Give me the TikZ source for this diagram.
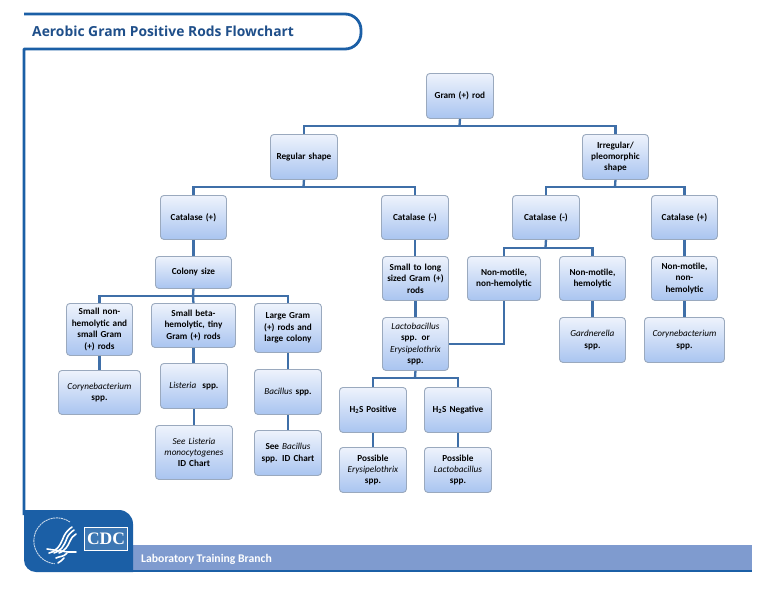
\documentclass[tikz,border=0pt]{standalone}
\usepackage{fontspec}
\setmainfont{Carlito}
\newfontfamily\titlefont{Open Sans}
\newfontfamily\logofont{Liberation Serif}
\definecolor{cdcblue}{HTML}{1B5FA6}
\definecolor{linkblue}{HTML}{3F6FA8}
\definecolor{bandblue}{HTML}{7F9BCF}
\definecolor{boxedge}{HTML}{9AA9BE}
\definecolor{boxtop}{HTML}{EEF3FC}
\definecolor{boxbot}{HTML}{A9C4F0}
\definecolor{titleblue}{HTML}{1F4F8A}
\tikzset{
  x=1pt,y=-1pt,
  fbox/.style={draw=boxedge,line width=0.9pt,rounded corners=3.5pt,top color=boxtop,bottom color=boxbot,
    align=center,font=\fontsize{9.2}{11.4}\selectfont\bfseries,inner sep=1pt,anchor=north west},
  link/.style={draw=linkblue,line width=2.3pt},
}
\newcommand{\itl}[1]{{\normalfont\itshape #1}}
\newcommand{\fb}[6]{% name,x1,y1,x2,y2,text
  \pgfmathsetmacro{\wid}{#4-#2}\pgfmathsetmacro{\hei}{#5-#3}
  \node[fbox,minimum width=\wid pt,minimum height=\hei pt,text width=\wid pt-3pt] (#1) at (#2,#3) {#6};}
\begin{document}
\begin{tikzpicture}
\useasboundingbox (0,0) rectangle (768,594);
\fill[white] (0,0) rectangle (768,594);
% frame
\draw[cdcblue,line width=2.8pt,line join=round] (24,14) -- (345,14) arc[start angle=90,end angle=0,radius=16pt] -- (361,33) arc[start angle=0,end angle=-90,radius=16pt] -- (24,49) -- (24,515);
\node[anchor=west,inner sep=0pt,text=titleblue,font=\titlefont\fontsize{13.85}{16}\selectfont\bfseries] (title) at (32,31) {Aerobic Gram Positive Rods Flowchart};
% footer
\fill[bandblue] (133,545) rectangle (752,570);
\fill[cdcblue] (133,570) rectangle (752,572);
\fill[cdcblue] (24,510) -- (119,510) arc[start angle=90,end angle=0,radius=14pt] -- (133,572) -- (36,572) arc[start angle=-90,end angle=-180,radius=12pt] -- cycle;
\node[anchor=west,inner sep=0pt,text=white,font=\fontsize{11.7}{13}\selectfont\bfseries] (ltb) at (141,559) {Laboratory Training Branch};
% CDC logo
\node[draw=white,line width=1.1pt,fill=cdcblue!85!white,text=white,inner sep=0pt,minimum width=43pt,minimum height=23pt,anchor=north west,font=\logofont\fontsize{17.5}{18}\selectfont\bfseries] (cdc) at (84,527) {CDC};
% HHS eagle
\draw[white!75!cdcblue,line width=0.9pt,dash pattern=on 2pt off 0.6pt] (70,522) arc[start angle=55,end angle=265,radius=23pt];
\begin{scope}[white,line width=1.6pt,line cap=round]
\draw (49,553) .. controls (57,551) and (60,546) .. (64,536) .. controls (66,532) and (69,529) .. (72,527);
\draw (54,553) .. controls (61,551) and (64,546) .. (67,538) .. controls (68,535) and (71,532) .. (74,530);
\draw (59,553) .. controls (65,551) and (68,546) .. (70,541) .. controls (71,538) and (73,536) .. (76,534);
\draw (47,549) -- (68,552) -- (76,552);
\draw (56,558) .. controls (60,556) and (64,557) .. (67,553);
\draw (58,563) .. controls (60,561) and (62,561) .. (64,558);
\end{scope}
% connectors
\coordinate (b1) at (459.5,126);
\coordinate (b2) at (303.5,187);
\coordinate (b3) at (615,187);
\coordinate (b4) at (545.5,248);
\coordinate (b5) at (193,296);
\coordinate (b6) at (415,378);
% boxes
\fb{gram}{426}{73}{493}{118}{Gram (+) rod}
\fb{regular}{270}{134}{337}{179}{Regular shape}
\fb{irregular}{582}{134}{648}{179}{Irregular/\\pleomorphic\\shape}
\fb{catA}{160}{195}{226}{239}{Catalase (+)}
\fb{catB}{381}{195}{448}{239}{Catalase (-)}
\fb{catC}{512}{195}{579}{239}{Catalase (-)}
\fb{catD}{651}{195}{717}{239}{Catalase (+)}
\fb{colony}{155}{256}{231}{288}{Colony size}
\fb{smallnon}{66}{303}{132}{355}{Small non-\\hemolytic and\\small Gram\\(+) rods}
\fb{smallbeta}{151}{303}{235}{347}{Small beta-\\hemolytic, tiny\\Gram (+) rods}
\fb{large}{254}{303}{321}{352}{Large Gram\\(+) rods and\\large colony}
\fb{coryA}{58}{370}{140}{414}{\itl{Corynebacterium}\\spp.}
\fb{listeria}{160}{363}{227}{408}{\itl{Listeria}\ \ spp.}
\fb{seelist}{155}{425}{232}{479}{\itl{See Listeria}\\\itl{monocytogenes}\\ID Chart}
\fb{bacillus}{254}{369}{321}{414}{\itl{Bacillus} spp.}
\fb{seebac}{254}{430}{321}{475}{See \itl{Bacillus}\\spp. ID Chart}
\fb{smalllong}{382}{256}{448}{300}{Small to long\\sized Gram (+)\\rods}
\fb{nmnon}{467}{256}{540}{300}{Non-motile,\\non-hemolytic}
\fb{nmhem}{559}{256}{625}{300}{Non-motile,\\hemolytic}
\fb{nmright}{651}{256}{717}{300}{Non-motile,\\non-\\hemolytic}
\fb{lacto}{382}{317}{448}{370}{\itl{Lactobacillus}\\spp. or\\\itl{Erysipelothrix}\\spp.}
\fb{gard}{559}{317}{625}{362}{\itl{Gardnerella}\\spp.}
\fb{coryB}{644}{317}{724}{362}{\itl{Corynebacterium}\\spp.}
\fb{hpos}{339}{387}{406}{432}{H\textsubscript{2}S Positive}
\fb{hneg}{424}{387}{491}{432}{H\textsubscript{2}S Negative}
\fb{pose}{339}{447}{406}{492}{Possible\\\itl{Erysipelothrix}\\spp.}
\fb{posl}{424}{447}{491}{492}{Possible\\\itl{Lactobacillus}\\spp.}
\draw[link] (gram.south) -- (b1);
\draw[link] (regular.north) |- (b1) -| (irregular.north);
\draw[link] (regular.south) -- (b2);
\draw[link] (catA.north) |- (b2) -| (catB.north);
\draw[link] (irregular.south) -- (b3);
\draw[link] (catC.north) |- (b3) -| (catD.north);
\draw[link] (catA.south) -- (colony.north);
\draw[link] (catB.south) -- (catB.south |- smalllong.north);
\draw[link] (catC.south) -- (b4);
\draw[link] (nmnon.north) |- (b4) -| (nmhem.north);
\draw[link] (catD.south) -- (nmright.north);
\draw[link] (colony.south) -- (b5);
\draw[link] (smallnon.north) |- (b5) -| (large.north);
\draw[link] (b5) -- (smallbeta.north);
\draw[link] (smallnon.south) -- (smallnon.south |- coryA.north);
\draw[link] (smallbeta.south) -- (smallbeta.south |- listeria.north);
\draw[link] (listeria.south) -- (listeria.south |- seelist.north);
\draw[link] (large.south) -- (bacillus.north);
\draw[link] (bacillus.south) -- (seebac.north);
\draw[link] (smalllong.south) -- (lacto.north);
\draw[link] (nmnon.south) |- (lacto.east);
\draw[link] (nmhem.south) -- (gard.north);
\draw[link] (nmright.south) -- (nmright.south |- coryB.north);
\draw[link] (lacto.south) -- (b6);
\draw[link] (hpos.north) |- (b6) -| (hneg.north);
\draw[link] (hpos.south) -- (pose.north);
\draw[link] (hneg.south) -- (posl.north);
\end{tikzpicture}
\end{document}
